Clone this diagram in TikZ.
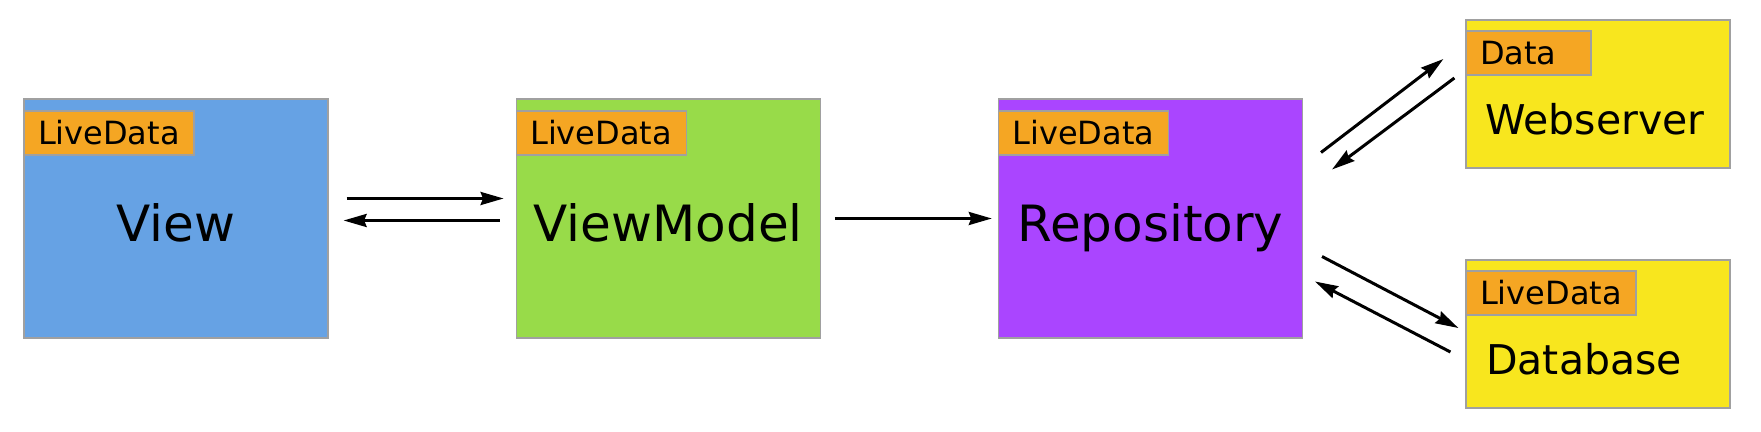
\documentclass[tikz,border=0pt]{standalone}
\usepackage{fontspec}
\setmainfont{DejaVu Sans}
\usetikzlibrary{arrows.meta,positioning}

\definecolor{viewblue}{RGB}{102,162,228}
\definecolor{vmgreen}{RGB}{152,219,73}
\definecolor{repopurple}{RGB}{170,69,255}
\definecolor{storeyellow}{RGB}{248,230,30}
\definecolor{tagorange}{RGB}{245,166,35}
\definecolor{edgegray}{RGB}{160,160,160}

\begin{document}
\begin{tikzpicture}[->,>={Stealth[length=23pt,width=13pt,inset=2.5pt]},
  x=1pt,y=1pt,line width=3pt,
  main box/.style={rectangle,draw=edgegray,line width=1.2pt,
    minimum width=304pt,minimum height=239pt,inner sep=0pt,
    font=\fontsize{50}{60}\selectfont,text height=46pt,text depth=0pt},
  store box/.style={rectangle,draw=edgegray,line width=1.2pt,
    fill=storeyellow,minimum width=264pt,minimum height=148pt,inner sep=0pt},
  tag/.style={rectangle,draw=edgegray,line width=1.2pt,fill=tagorange,
    anchor=north west,minimum height=44pt,inner xsep=14pt,inner ysep=0pt,
    text width=142pt,align=left,font=\fontsize{32}{38}\selectfont,
    text height=23pt,text depth=0pt},
  store text/.style={anchor=base west,font=\fontsize{41}{50}\selectfont}]

  \useasboundingbox (0,0) rectangle (1761,431);

  \node[main box,fill=viewblue] (view) at (176,212.5) {View};
  \node[main box,fill=vmgreen] (vm) [right=187pt of view] {ViewModel};
  \node[main box,fill=repopurple] (repo) [right=177pt of vm] {Repository};
  \node[store box] (web) at (1598,337) {};
  \node[store box] (db) at (1598,97) {};

  \node[tag] (viewtag) at ([yshift=-12pt]view.north west) {LiveData};
  \node[tag] (vmtag) at ([yshift=-12pt]vm.north west) {LiveData};
  \node[tag] (repotag) at ([yshift=-12pt]repo.north west) {LiveData};
  \node[tag,text width=97pt] (webtag) at ([yshift=-11pt]web.north west) {Data};
  \node[tag] (dbtag) at ([yshift=-11pt]db.north west) {LiveData};

  \node[store text] (webtxt) at ([xshift=15pt,yshift=-115pt]web.north west) {Webserver};
  \node[store text] (dbtxt) at ([xshift=16pt,yshift=-115pt]db.north west) {Database};

  % pairs of arrows, one each way
  \draw ([xshift=18pt,yshift=20pt]view.east) -- ([xshift=-12pt,yshift=20pt]vm.west);
  \draw ([xshift=-16pt,yshift=-2pt]vm.west) -- ([xshift=15pt,yshift=-2pt]view.east);
  \draw ([xshift=14pt]vm.east) -- ([xshift=-6pt]repo.west);

  \draw ([xshift=18pt,yshift=66pt]repo.east) -- ([xshift=-22pt,yshift=35pt]web.west);
  \draw ([xshift=-11pt,yshift=16pt]web.west) -- ([xshift=29pt,yshift=49pt]repo.east);
  \draw ([xshift=19pt,yshift=-38pt]repo.east) -- ([xshift=-7pt,yshift=6pt]db.west);
  \draw ([xshift=-15pt,yshift=-18pt]db.west) -- ([xshift=12pt,yshift=-63pt]repo.east);

\end{tikzpicture}
\end{document}
